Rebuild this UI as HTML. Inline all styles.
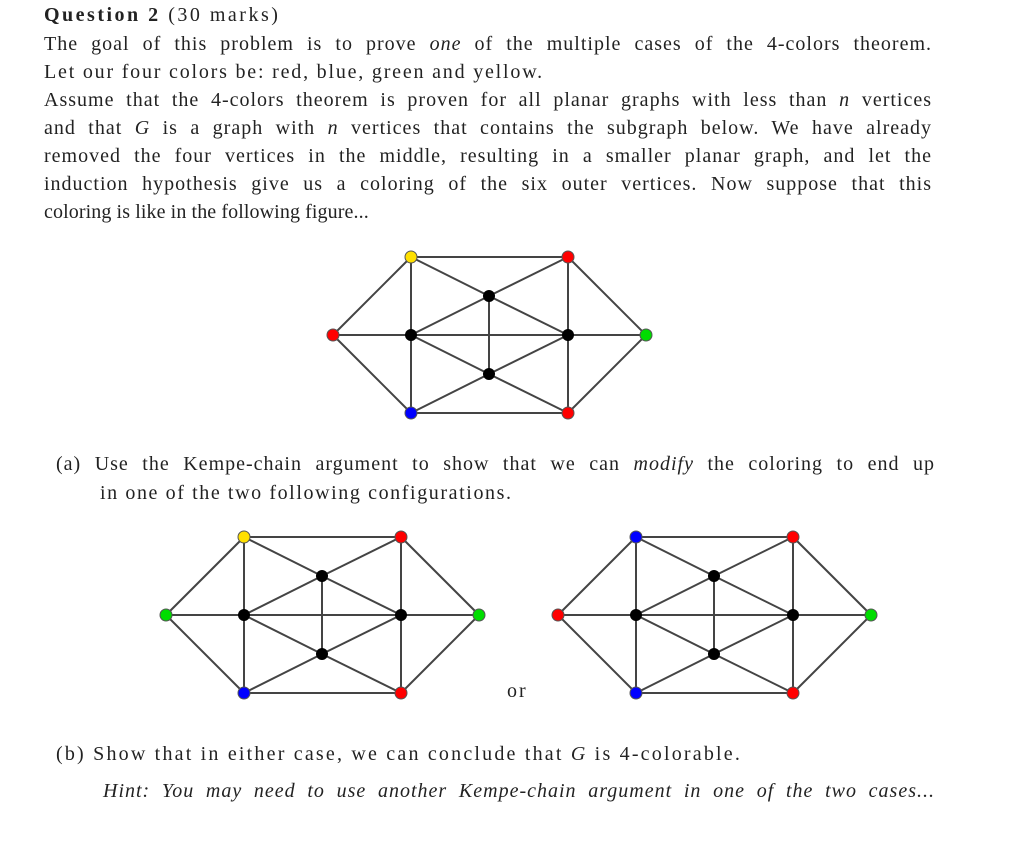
<!DOCTYPE html>
<html><head><meta charset="utf-8"><style>
body{margin:0;width:1024px;height:849px;background:#fff;position:relative;overflow:hidden;font-family:"Liberation Serif",serif;color:#222;}
.l{position:absolute;left:44px;font-size:20px;white-space:nowrap;line-height:22px;letter-spacing:2px;}
.j{width:888px;text-align:justify;text-align-last:justify;white-space:normal;letter-spacing:1px;}
svg{position:absolute;left:0;top:0}
</style></head><body>
<div class="l" style="top:4px;letter-spacing:2.5px"><b>Question 2</b> (30 marks)</div>
<div class="l j" style="top:33px">The goal of this problem is to prove <i>one</i> of the multiple cases of the 4-colors theorem.</div>
<div class="l" style="top:61px;letter-spacing:1.8px">Let our four colors be: red, blue, green and yellow.</div>
<div class="l j" style="top:89px">Assume that the 4-colors theorem is proven for all planar graphs with less than <i>n</i> vertices</div>
<div class="l j" style="top:117px">and that <i>G</i> is a graph with <i>n</i> vertices that contains the subgraph below. We have already</div>
<div class="l j" style="top:145px">removed the four vertices in the middle, resulting in a smaller planar graph, and let the</div>
<div class="l j" style="top:173px">induction hypothesis give us a coloring of the six outer vertices. Now suppose that this</div>
<div class="l" style="top:201px;letter-spacing:0.1px">coloring is like in the following figure...</div>
<div class="l j" style="top:453px;left:56px;width:879px">(a) Use the Kempe-chain argument to show that we can <i>modify</i> the coloring to end up</div>
<div class="l" style="top:482px;left:100px;letter-spacing:1.6px">in one of the two following configurations.</div>
<div class="l" style="top:680px;left:507px">or</div>
<div class="l" style="top:743px;left:56px;letter-spacing:2.2px">(b) Show that in either case, we can conclude that <i>G</i> is 4-colorable.</div>
<div class="l j" style="top:780px;left:103px;width:832px"><i>Hint: You may need to use another Kempe-chain argument in one of the two cases...</i></div>
<svg width="1024" height="849">
<defs>
<g id="e" stroke="#444" stroke-width="2">
<line x1="0" y1="0" x2="157" y2="0"/><line x1="0" y1="0" x2="-78" y2="78"/><line x1="0" y1="0" x2="0" y2="156"/><line x1="0" y1="0" x2="78" y2="39"/>
<line x1="157" y1="0" x2="78" y2="39"/><line x1="157" y1="0" x2="157" y2="156"/><line x1="157" y1="0" x2="235" y2="78"/>
<line x1="-78" y1="78" x2="157" y2="78" /><line x1="-78" y1="78" x2="0" y2="156"/>
<line x1="0" y1="78" x2="78" y2="39"/><line x1="0" y1="78" x2="78" y2="117"/>
<line x1="78" y1="39" x2="78" y2="117"/><line x1="78" y1="39" x2="157" y2="78"/>
<line x1="157" y1="78" x2="235" y2="78"/><line x1="157" y1="78" x2="78" y2="117"/>
<line x1="78" y1="117" x2="0" y2="156"/><line x1="78" y1="117" x2="157" y2="156"/>
<line x1="0" y1="156" x2="157" y2="156"/><line x1="235" y1="78" x2="157" y2="156"/>
</g>
<g id="k" fill="#000"><circle cx="0" cy="78" r="6"/><circle cx="78" cy="39" r="6"/><circle cx="157" cy="78" r="6"/><circle cx="78" cy="117" r="6"/></g>
</defs>
<g transform="translate(411,257)"><use href="#e"/><use href="#k"/>
<circle r="6" fill="#ffe000" stroke="#555"/><circle cx="157" r="6" fill="#f00" stroke="#555"/><circle cx="-78" cy="78" r="6" fill="#f00" stroke="#555"/><circle cx="235" cy="78" r="6" fill="#0d0" stroke="#555"/><circle cy="156" r="6" fill="#00f" stroke="#555"/><circle cx="157" cy="156" r="6" fill="#f00" stroke="#555"/></g>
<g transform="translate(244,537)"><use href="#e"/><use href="#k"/>
<circle r="6" fill="#ffe000" stroke="#555"/><circle cx="157" r="6" fill="#f00" stroke="#555"/><circle cx="-78" cy="78" r="6" fill="#0d0" stroke="#555"/><circle cx="235" cy="78" r="6" fill="#0d0" stroke="#555"/><circle cy="156" r="6" fill="#00f" stroke="#555"/><circle cx="157" cy="156" r="6" fill="#f00" stroke="#555"/></g>
<g transform="translate(636,537)"><use href="#e"/><use href="#k"/>
<circle r="6" fill="#00f" stroke="#555"/><circle cx="157" r="6" fill="#f00" stroke="#555"/><circle cx="-78" cy="78" r="6" fill="#f00" stroke="#555"/><circle cx="235" cy="78" r="6" fill="#0d0" stroke="#555"/><circle cy="156" r="6" fill="#00f" stroke="#555"/><circle cx="157" cy="156" r="6" fill="#f00" stroke="#555"/></g>
</svg>
</body></html>
